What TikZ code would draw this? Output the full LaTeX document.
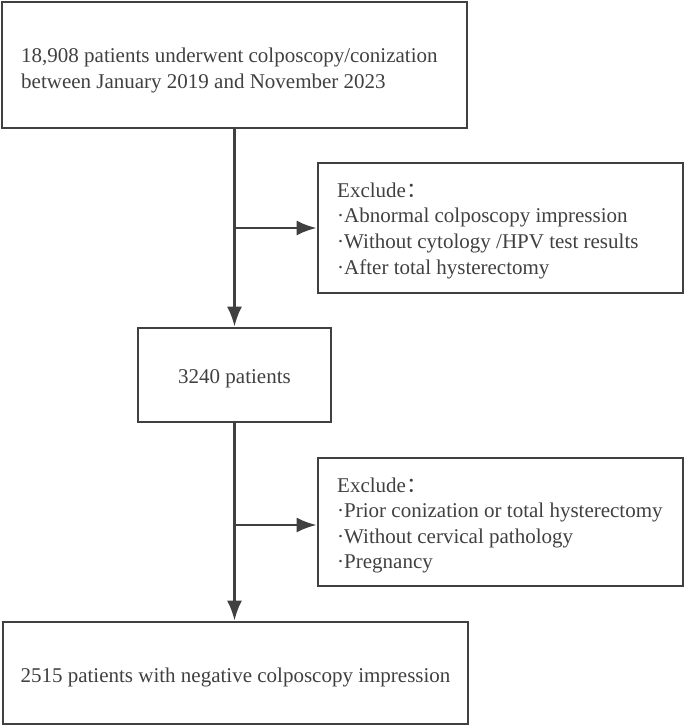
\documentclass[tikz,border=0pt]{standalone}
\usepackage{fontspec}
\setmainfont{Liberation Serif}
\newfontfamily\cjkfont{Noto Sans CJK SC}
\usetikzlibrary{arrows.meta}
\definecolor{ink}{RGB}{64,64,64}
\begin{document}
\begin{tikzpicture}[x=1pt,y=-1pt,
  box/.style={draw=ink,line width=2.8pt,rectangle,inner sep=0pt},
  txt/.style={inner sep=0pt,text=ink,font=\fontsize{21}{26}\selectfont},
  conn/.style={draw=ink,line width=2.5pt,-{Latex[length=20pt,width=15pt]}},
  plainline/.style={draw=ink,line width=2.5pt}]
\useasboundingbox (0,0) rectangle (685,726);
% boxes
\node[box,minimum width=465pt,minimum height=126pt] (b1) at (234.5,65) {};
\node[box,minimum width=365pt,minimum height=130pt] (e1) at (500.5,228) {};
\node[box,minimum width=193pt,minimum height=94pt] (b2) at (234.5,375) {};
\node[box,minimum width=365pt,minimum height=128pt] (e2) at (500.5,522) {};
\node[box,minimum width=465pt,minimum height=102pt] (b3) at (235.5,673) {};
% texts
\node[txt,anchor=base west] (t11) at (21,62) {18,908 patients underwent colposcopy/conization};
\node[txt,anchor=base west] (t12) at (21,88) {between January 2019 and November 2023};
\node[txt,anchor=base west] (t21) at (337,197) {Exclude{\cjkfont ：}};
\node[txt,anchor=base west] (t22) at (337,222.8) {·Abnormal colposcopy impression};
\node[txt,anchor=base west] (t23) at (337,248.6) {·Without cytology /HPV test results};
\node[txt,anchor=base west] (t24) at (337,274.4) {·After total hysterectomy};
\node[txt,anchor=base] (t3) at (234.5,383) {3240 patients};
\node[txt,anchor=base west] (t41) at (337,492) {Exclude{\cjkfont ：}};
\node[txt,anchor=base west] (t42) at (337,517.5) {·Prior conization or total hysterectomy};
\node[txt,anchor=base west] (t43) at (337,543) {·Without cervical pathology};
\node[txt,anchor=base west] (t44) at (337,568.5) {·Pregnancy};
\node[txt,anchor=base] (t5) at (235.5,682) {2515 patients with negative colposcopy impression};
% connectors
\coordinate (j1) at (b1.south |- e1.west);
\coordinate (j2) at (235,525);
\draw[conn] (b1.south) -- (b2.north);
\draw[conn] (j1) -- (e1.west);
\draw[conn] (b2.south) -- (b2.south |- b3.north);
\draw[conn] (j2) -- (j2 -| e2.west);
\end{tikzpicture}
\end{document}
